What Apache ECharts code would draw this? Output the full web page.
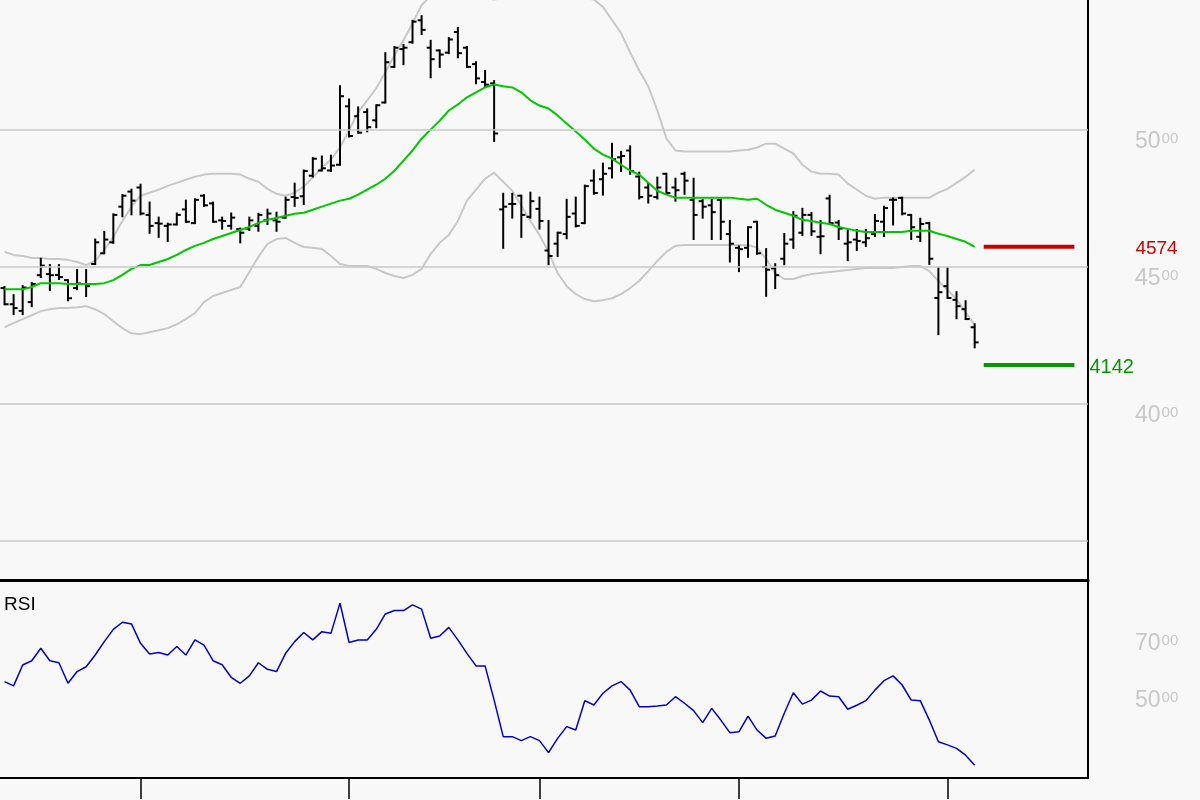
<!DOCTYPE html>
<html>
<head>
<meta charset="utf-8">
<script src="https://cdn.jsdelivr.net/npm/echarts@6/dist/echarts.min.js"></script>
<style>
html,body{margin:0;padding:0;background:#f8f8f8;}
#chart{width:1200px;height:800px;}
</style>
</head>
<body>
<div id="chart"></div>
<script>
// ---------- data ----------
const slotCount = 120;
const categories = Array.from({length: slotCount}, (_, i) => String(i + 1));
const monthTicks = [15, 38, 59, 81, 104];

const open  = [4423,4364,4340,4372,4470,4474,4471,4452,4423,4438,4511,4550,4590,4720,4775,4790,4690,4660,4650,4655,4710,4660,4760,4732,4670,4650,4638,4640,4650,4670,4670,4680,4755,4758,4833,4852,4852,4873,5086,5050,5065,5035,5100,5230,5295,5320,5400,5300,5290,5282,5357,5300,5240,5175,5170,4710,4730,4760,4683,4712,4560,4585,4620,4695,4660,4815,4820,4860,4900,4925,4830,4790,4755,4840,4790,4840,4745,4740,4725,4745,4620,4570,4570,4665,4500,4495,4530,4600,4625,4690,4610,4750,4662,4585,4600,4590,4620,4665,4745,4752,4690,4610,4660,4387,4430,4380,4346,4280];
const high  = [4427,4397,4430,4441,4530,4507,4507,4452,4489,4489,4600,4628,4692,4762,4782,4800,4735,4680,4658,4695,4742,4747,4762,4735,4680,4695,4640,4680,4694,4709,4698,4753,4804,4852,4897,4903,4906,5159,5111,5082,5075,5090,5280,5302,5310,5398,5415,5325,5290,5335,5372,5302,5247,5215,5178,4767,4767,4760,4771,4753,4668,4625,4745,4753,4797,4852,4877,4950,4920,4940,4844,4804,4826,4840,4822,4844,4822,4745,4745,4745,4668,4575,4645,4665,4565,4510,4620,4700,4712,4697,4668,4760,4668,4635,4635,4635,4690,4720,4750,4753,4690,4676,4661,4496,4496,4408,4375,4291];
const low   = [4364,4328,4328,4357,4463,4416,4456,4379,4419,4394,4511,4550,4588,4685,4692,4692,4625,4610,4595,4655,4665,4660,4722,4665,4640,4640,4590,4635,4632,4657,4632,4680,4723,4730,4830,4852,4850,4873,4976,4990,4995,5010,5100,5230,5240,5318,5350,5192,5230,5280,5265,5230,5170,5160,4960,4570,4680,4610,4680,4640,4510,4540,4605,4648,4660,4767,4764,4826,4850,4840,4750,4735,4750,4767,4742,4767,4602,4680,4602,4602,4520,4485,4537,4548,4395,4423,4510,4570,4617,4617,4550,4657,4602,4525,4562,4577,4613,4613,4655,4692,4602,4595,4511,4255,4387,4313,4310,4207];
const close = [4364,4350,4425,4438,4505,4470,4463,4386,4440,4430,4590,4600,4690,4760,4742,4695,4650,4658,4655,4690,4665,4745,4725,4665,4668,4680,4625,4670,4690,4695,4665,4745,4752,4850,4895,4860,4870,5123,4978,4990,5010,5090,5247,5300,5300,5395,5365,5258,5275,5330,5280,5230,5188,5165,4987,4720,4730,4690,4740,4668,4540,4625,4683,4650,4795,4770,4840,4893,4905,4850,4755,4760,4790,4770,4780,4815,4690,4720,4700,4665,4585,4565,4645,4550,4490,4470,4585,4687,4690,4630,4612,4660,4640,4590,4595,4605,4668,4715,4745,4695,4645,4657,4530,4408,4387,4357,4310,4225];

const movingAvg = [4419,4419,4419,4427,4441,4441,4441,4438,4438,4438,4438,4441,4452,4471,4493,4507,4507,4518,4529,4544,4562,4577,4588,4602,4613,4624,4635,4646,4661,4672,4679,4687,4694,4698,4709,4720,4731,4742,4749,4764,4782,4800,4822,4851,4888,4925,4968,5001,5034,5071,5093,5119,5137,5155,5166,5159,5155,5137,5108,5089,5078,5053,5023,4994,4965,4932,4910,4895,4873,4851,4837,4807,4778,4764,4753,4753,4753,4753,4753,4753,4753,4749,4745,4749,4727,4709,4698,4687,4672,4668,4661,4657,4646,4639,4632,4628,4628,4628,4628,4628,4632,4632,4632,4621,4613,4602,4592,4573];
const upperBand = [4555,4544,4540,4533,4533,4529,4529,4526,4518,4507,4522,4562,4610,4668,4720,4760,4771,4782,4796,4807,4818,4829,4837,4840,4840,4840,4837,4822,4811,4785,4767,4760,4771,4793,4826,4862,4892,4936,4998,5064,5108,5152,5210,5272,5327,5389,5455,5490,5500,5500,5495,5490,5485,5480,5476,5480,5490,5500,5505,5505,5500,5495,5490,5485,5480,5476,5449,5401,5353,5283,5217,5159,5071,4969,4925,4921,4921,4921,4921,4921,4921,4925,4928,4936,4950,4950,4932,4914,4873,4848,4840,4840,4837,4804,4782,4760,4749,4753,4753,4753,4753,4753,4753,4771,4785,4807,4829,4855];
const lowerBand = [4280,4295,4310,4324,4339,4346,4350,4350,4353,4357,4346,4328,4302,4277,4258,4255,4262,4269,4277,4291,4310,4332,4372,4394,4405,4416,4427,4482,4537,4584,4602,4606,4588,4573,4570,4566,4540,4511,4504,4504,4504,4493,4478,4467,4460,4471,4493,4548,4588,4617,4668,4742,4782,4822,4844,4811,4778,4723,4668,4617,4555,4478,4430,4401,4383,4375,4379,4386,4401,4423,4449,4485,4522,4555,4577,4580,4580,4580,4580,4580,4580,4580,4580,4570,4529,4478,4456,4456,4467,4474,4478,4482,4485,4489,4493,4496,4496,4496,4496,4500,4504,4504,4485,4449,4416,4383,4335,4288];

const rsi = [52.6,51.1,58.4,59.9,64.3,59.9,59.2,52.0,56.1,57.8,61.9,66.6,70.9,73.4,72.8,66.0,62.3,62.8,61.9,64.9,61.9,67.2,65.4,59.9,58.5,54.1,52.0,54.6,59.2,56.9,56.1,62.5,66.6,69.8,67.2,70.1,69.5,80.1,66.3,67.2,67.2,70.9,76.3,77.5,77.5,79.5,78.0,67.8,68.6,71.6,67.2,62.5,58.1,58.1,46.1,33.3,33.3,31.9,33.3,31.9,27.7,32.7,36.8,35.6,45.9,44.4,48.5,51.1,52.6,49.6,43.8,43.8,44.0,44.4,47.3,45.0,42.4,38.2,43.2,39.1,34.7,35.0,40.5,35.6,32.7,33.5,41.5,48.7,44.7,46.1,49.3,47.5,47.3,42.9,44.3,45.9,49.6,52.9,54.6,51.4,46.1,45.9,39.1,31.5,30.4,29.2,26.8,23.3];

const priceTicks = [4000, 4500, 5000];
const priceGridLevels = [3500, 4000, 4500, 5000];
const rsiTicks = [50, 70];
const resistanceLevel = 4574;
const supportLevel = 4142;
const levelStart = 108, levelEnd = 118;

// ---------- build options ----------
const ohlcData = open.map((o, i) => [i, o, high[i], low[i], close[i]]);
function levelSeriesData(v) {
  return categories.map((_, i) => (i >= levelStart && i <= levelEnd) ? v : '-');
}
const priceFmt = v => { const s = String(v); return '{a|' + s.slice(0, 2) + '}{b|' + s.slice(2) + '}'; };
const rsiFmt = v => '{a|' + v + '}{b|00}';
const labelRich = {
  a: {fontSize: 23, color: '#c8c8c8', fontFamily: 'Liberation Sans', verticalAlign: 'top', lineHeight: 22},
  b: {fontSize: 15, color: '#c8c8c8', fontFamily: 'Liberation Sans', verticalAlign: 'top', lineHeight: 22, padding: [1, 0, 0, 1]}
};

const chart = echarts.init(document.getElementById('chart'), null, {renderer: 'canvas'});
chart.setOption({
  backgroundColor: '#f8f8f8',
  animation: false,
  title: {text: 'RSI', left: -1, top: 590, textStyle: {fontSize: 19, fontWeight: 'normal', color: '#000', fontFamily: 'Liberation Sans'}},
  grid: [
    {left: 0, top: 0, width: 1088, height: 580},
    {left: 0, top: 582, width: 1088, height: 196}
  ],
  xAxis: [
    {type: 'category', gridIndex: 0, data: categories, boundaryGap: true,
     axisLine: {show: true, lineStyle: {color: '#000', width: 3}}, axisTick: {show: false}, axisLabel: {show: false}, splitLine: {show: false}},
    {type: 'category', gridIndex: 1, data: categories, boundaryGap: true,
     axisLine: {show: true, lineStyle: {color: '#000', width: 2}},
     axisTick: {show: true, alignWithLabel: true, length: 21, lineStyle: {color: '#000', width: 1.5},
                interval: (idx) => monthTicks.includes(idx)},
     axisLabel: {show: false}, splitLine: {show: false}}
  ],
  yAxis: [
    {type: 'value', gridIndex: 0, position: 'right', min: 3358, max: 5474, scale: true,
     axisLine: {show: true, lineStyle: {color: '#000', width: 2}}, axisTick: {show: false},
     splitLine: {show: false},
     axisLabel: {show: true, customValues: priceTicks, formatter: priceFmt, rich: labelRich, margin: 47, verticalAlign: 'top', align: 'left'}},
    {type: 'value', gridIndex: 1, position: 'right', min: 18.8, max: 87.5, scale: true,
     axisLine: {show: true, lineStyle: {color: '#000', width: 2}}, axisTick: {show: false},
     splitLine: {show: false},
     axisLabel: {show: true, customValues: rsiTicks, formatter: rsiFmt, rich: labelRich, margin: 47, verticalAlign: 'top', align: 'left'}}
  ],
  series: [
    {type: 'line', name: 'upper', xAxisIndex: 0, yAxisIndex: 0, data: upperBand, symbol: 'none',
     lineStyle: {color: '#c8c8c8', width: 2}, z: 1,
     markLine: {silent: true, symbol: 'none', label: {show: false}, animation: false,
                lineStyle: {color: '#c8c8c8', width: 1.5, type: 'solid'},
                data: priceGridLevels.map(v => ({yAxis: v}))}},
    {type: 'line', name: 'lower', xAxisIndex: 0, yAxisIndex: 0, data: lowerBand, symbol: 'none',
     lineStyle: {color: '#c8c8c8', width: 2}, z: 1},
    {type: 'custom', name: 'ohlc', xAxisIndex: 0, yAxisIndex: 0, data: ohlcData, z: 2,
     encode: {x: 0, y: [1, 2, 3, 4]},
     renderItem: function (params, api) {
       const i = api.value(0);
       const pH = api.coord([i, api.value(2)]);
       const pL = api.coord([i, api.value(3)]);
       const pO = api.coord([i, api.value(1)]);
       const pC = api.coord([i, api.value(4)]);
       const st = {stroke: '#000', lineWidth: 2};
       return {type: 'group', children: [
         {type: 'line', shape: {x1: pH[0], y1: pH[1] - 1, x2: pL[0], y2: pL[1] + 1}, style: st},
         {type: 'line', shape: {x1: pO[0] - 4, y1: pO[1], x2: pO[0], y2: pO[1]}, style: st},
         {type: 'line', shape: {x1: pC[0], y1: pC[1], x2: pC[0] + 4, y2: pC[1]}, style: st}
       ]};
     }},
    {type: 'line', name: 'ma', xAxisIndex: 0, yAxisIndex: 0, data: movingAvg, symbol: 'none',
     lineStyle: {color: '#00c800', width: 2}, z: 3},
    {type: 'line', name: 'resistance', xAxisIndex: 0, yAxisIndex: 0, data: levelSeriesData(resistanceLevel), symbol: 'none',
     lineStyle: {color: '#cc0000', width: 4}, z: 3,
     endLabel: {show: true, formatter: String(resistanceLevel), color: '#cc0000', fontSize: 19, fontFamily: 'Liberation Sans', distance: 0, offset: [61, 2]}},
    {type: 'line', name: 'support', xAxisIndex: 0, yAxisIndex: 0, data: levelSeriesData(supportLevel), symbol: 'none',
     lineStyle: {color: '#009900', width: 4}, z: 3,
     endLabel: {show: true, formatter: String(supportLevel), color: '#009900', fontSize: 20, fontFamily: 'Liberation Sans', distance: 0, offset: [15, 2]}},
    {type: 'line', name: 'RSI', xAxisIndex: 1, yAxisIndex: 1, data: rsi, symbol: 'none',
     lineStyle: {color: '#0000cc', width: 1.5}, z: 3}
  ]
});
</script>
</body>
</html>
